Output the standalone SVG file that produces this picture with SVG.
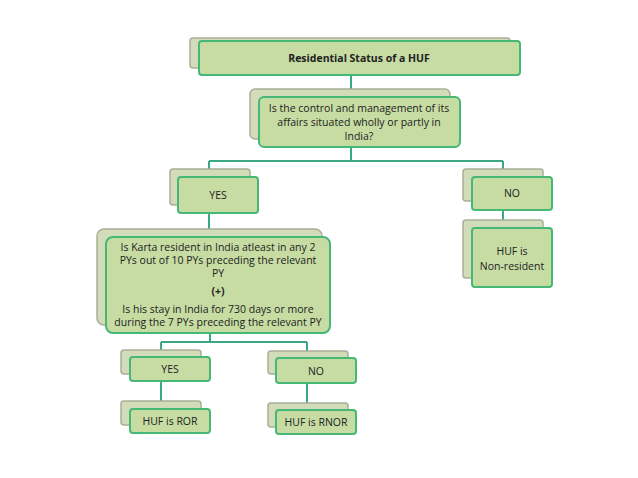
<svg xmlns="http://www.w3.org/2000/svg" width="638" height="478" viewBox="0 0 638 478">
<style>
.b{fill:#d3dcb8;stroke:#a9ae98;stroke-width:1.5}
.f{fill:#c6dca2;stroke:#45b878;stroke-width:2}
.c{stroke:#3aa884;stroke-width:2;fill:none}
text{font-family:"Open Sans","Liberation Sans",sans-serif;font-size:10.5px;fill:#222;text-anchor:middle}
</style>
<rect width="638" height="478" fill="#fff"/>
<g id="connectors" class="c">
<path d="M351 75V97M351 147V161M209 161H503M209 161V177M503 161V177M209 213V237M503 210V227M210 333V342M161 342H307M161 342V357M307 342V357M161 381V409M307 383V410"/>
</g>
<g id="title"><rect class="b" x="190" y="38" width="320" height="30" rx="3"/><rect class="f" x="199" y="41" width="321" height="34" rx="3"/><text x="359" y="62" font-weight="bold" font-size="11.5">Residential Status of a HUF</text></g>
<g id="q1"><rect class="b" x="250" y="89" width="200" height="50" rx="5"/><rect class="f" x="259" y="97" width="201" height="50" rx="5"/><text x="359" y="112">Is the control and management of its</text><text x="359" y="126">affairs situated wholly or partly in</text><text x="359" y="140">India?</text></g>
<g id="yes1"><rect class="b" x="170" y="169" width="80" height="36" rx="3"/><rect class="f" x="178" y="177" width="80" height="36" rx="3"/><text x="218" y="199" font-size="10">YES</text></g>
<g id="no1"><rect class="b" x="463" y="169" width="80" height="32" rx="3"/><rect class="f" x="472" y="177" width="80" height="33" rx="3"/><text x="512" y="197" font-size="10">NO</text></g>
<g id="nonres"><rect class="b" x="463" y="220" width="80" height="58" rx="3"/><rect class="f" x="472" y="228" width="80" height="59" rx="3"/><text x="512" y="255" font-size="11.5">HUF is</text><text x="512" y="270" font-size="11.5">Non-resident</text></g>
<g id="karta"><rect class="b" x="97" y="229" width="225" height="96" rx="7"/><rect class="f" x="106" y="237" width="224" height="96" rx="7"/><text x="218" y="251">Is Karta resident in India atleast in any 2</text><text x="218" y="264">PYs out of 10 PYs preceding the relevant</text><text x="218" y="277">PY</text><text x="218" y="295" font-weight="bold">(+)</text><text x="218" y="313">Is his stay in India for 730 days or more</text><text x="218" y="326">during the 7 PYs preceding the relevant PY</text></g>
<g id="yes2"><rect class="b" x="121" y="350" width="80" height="24" rx="3"/><rect class="f" x="130" y="357" width="80" height="24" rx="3"/><text x="170" y="373" font-size="10">YES</text></g>
<g id="no2"><rect class="b" x="268" y="351" width="80" height="23" rx="3"/><rect class="f" x="276" y="358" width="80" height="25" rx="3"/><text x="316" y="375" font-size="10">NO</text></g>
<g id="ror"><rect class="b" x="121" y="401" width="80" height="24" rx="3"/><rect class="f" x="130" y="409" width="80" height="24" rx="3"/><text x="170" y="425" font-size="10">HUF is ROR</text></g>
<g id="rnor"><rect class="b" x="268" y="403" width="80" height="24" rx="3"/><rect class="f" x="276" y="410" width="80" height="24" rx="3"/><text x="316" y="426" font-size="10">HUF is RNOR</text></g>
</svg>
